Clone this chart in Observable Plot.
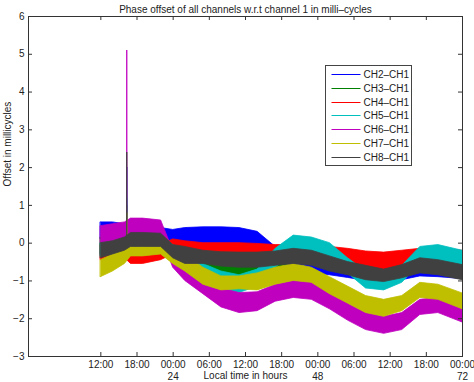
<!DOCTYPE html>
<html><head><meta charset="utf-8">
<script src="https://cdn.jsdelivr.net/npm/d3@7"></script>
<script src="https://cdn.jsdelivr.net/npm/@observablehq/plot@0.6"></script>
<style>
body{margin:0;background:#fff;font-family:"Liberation Sans",Arial,sans-serif;}
#wrap{position:relative;width:474px;height:382px;overflow:hidden;}
</style></head><body><div id="wrap"></div>
<script>
// sample times (hours)
const hours = [12,14,16,17,19,22,24,26,29,32,35,38,41,44,47,50,53,56,59,62,65,68,72];
const channels = ["CH2-CH1","CH3-CH1","CH4-CH1","CH5-CH1","CH6-CH1","CH7-CH1","CH8-CH1"];
const colors = ["#0000ff","#008000","#ff0000","#00bfbf","#bf00bf","#bfbf00","#404040"];

// lower / upper envelope of each noisy trace (milli-cycles)
const ch2Lo = [0.1,0.1,0.1,0.0,0.0,0.0,0.0,0.0,0.0,0.0,0.0,-0.15,-0.5,-0.8,-0.8,-0.85,-0.92,-1.0,-1.05,-0.98,-0.88,-0.9,-0.95];
const ch2Hi = [0.55,0.55,0.5,0.4,0.4,0.4,0.35,0.4,0.42,0.42,0.4,0.3,-0.1,-0.4,-0.4,-0.45,-0.5,-0.6,-0.65,-0.58,-0.45,-0.5,-0.55];
const ch3Lo = [-0.3,-0.25,-0.2,-0.3,-0.3,-0.35,-0.45,-0.6,-0.8,-0.9,-0.92,-0.9,-0.7,-0.5,-0.5,-0.65,-0.75,-0.85,-0.9,-0.85,-0.7,-0.75,-0.85];
const ch3Hi = [0.15,0.15,0.2,0.1,0.1,0.0,-0.05,-0.2,-0.35,-0.45,-0.5,-0.45,-0.35,-0.2,-0.25,-0.35,-0.5,-0.6,-0.7,-0.6,-0.45,-0.5,-0.6];
const ch4Lo = [-0.45,-0.45,-0.4,-0.55,-0.55,-0.45,-0.3,-0.35,-0.35,-0.37,-0.37,-0.4,-0.4,-0.45,-0.45,-0.5,-0.6,-0.7,-0.7,-0.62,-0.55,-0.55,-0.55];
const ch4Hi = [-0.05,-0.05,0.0,-0.1,-0.1,-0.05,0.1,0.05,0.0,0.0,0.0,-0.02,-0.05,-0.05,-0.1,-0.1,-0.15,-0.22,-0.25,-0.2,-0.15,-0.15,-0.2];
const ch5Lo = [-0.35,-0.3,-0.25,-0.15,-0.15,-0.15,-0.45,-0.7,-1.0,-1.2,-1.32,-1.15,-0.65,-0.3,-0.27,-0.45,-0.8,-1.2,-1.25,-1.05,-0.55,-0.5,-0.63];
const ch5Hi = [0.0,0.05,0.1,0.2,0.2,0.2,-0.05,-0.3,-0.55,-0.75,-0.85,-0.7,-0.15,0.2,0.15,0.0,-0.4,-0.75,-0.8,-0.6,-0.1,-0.05,-0.2];
const ch6Lo = [0.0,0.05,0.1,0.25,0.25,0.2,-0.65,-1.0,-1.35,-1.7,-1.85,-1.8,-1.55,-1.45,-1.5,-1.75,-2.05,-2.3,-2.4,-2.3,-1.9,-1.85,-2.1];
const ch6Hi = [0.45,0.5,0.55,0.65,0.65,0.6,-0.2,-0.5,-0.9,-1.2,-1.32,-1.3,-1.1,-1.0,-1.05,-1.3,-1.6,-1.85,-1.95,-1.85,-1.5,-1.45,-1.7];
const ch7Lo = [-0.9,-0.75,-0.55,-0.35,-0.35,-0.3,-0.55,-0.75,-1.1,-1.25,-1.22,-1.25,-1.1,-1.0,-1.05,-1.35,-1.6,-1.85,-1.95,-1.8,-1.45,-1.5,-1.75];
const ch7Hi = [-0.45,-0.3,-0.1,0.0,0.0,0.05,-0.1,-0.3,-0.65,-0.88,-0.88,-0.8,-0.65,-0.55,-0.65,-0.9,-1.15,-1.4,-1.5,-1.4,-1.05,-1.1,-1.33];
const ch8Lo = [-0.4,-0.3,-0.2,-0.1,-0.1,-0.1,-0.4,-0.55,-0.55,-0.62,-0.65,-0.65,-0.6,-0.55,-0.6,-0.75,-0.85,-0.98,-1.03,-0.93,-0.8,-0.85,-0.98];
const ch8Hi = [0.0,0.05,0.15,0.27,0.27,0.25,-0.05,-0.1,-0.2,-0.24,-0.25,-0.25,-0.22,-0.15,-0.2,-0.35,-0.5,-0.6,-0.7,-0.58,-0.4,-0.45,-0.58];

// transient spike
const spikeHour = 16.3;
const spikeTop = [2.0,1.0,0.6,1.2,5.1,0.8,2.4];

// axes
const yTicks = [-3,-2,-1,0,1,2,3,4,5,6];
const xTicks = [12,18,24,30,36,42,48,54,60,66,72];
const xTickLabels = ["12:00","18:00","00:00","06:00","12:00","18:00","00:00","06:00","12:00","18:00","00:00"];
const dayTicks = [24,48,72];
const dayLabels = ["24","48","72"];
const title = "Phase offset of all channels w.r.t channel 1 in milli\u2013cycles";
const xLabel = "Local time in hours";
const yLabel = "Offset in millicycles";

const los = [ch2Lo,ch3Lo,ch4Lo,ch5Lo,ch6Lo,ch7Lo,ch8Lo];
const his = [ch2Hi,ch3Hi,ch4Hi,ch5Hi,ch6Hi,ch7Hi,ch8Hi];

const seriesMarks = [];
channels.forEach((c, k) => {
  const rows = hours.map((h, i) => ({hour: h, lo: los[k][i], hi: his[k][i]}));
  seriesMarks.push(Plot.areaY(rows, {x: "hour", y1: "lo", y2: "hi", fill: colors[k], stroke: colors[k], strokeWidth: 0.8}));
  seriesMarks.push(Plot.ruleX([{hour: spikeHour, top: spikeTop[k]}], {x: "hour", y1: 0, y2: "top", stroke: colors[k], strokeWidth: 1.3}));
});

const xLab = new Map(xTicks.map((d, i) => [d, xTickLabels[i]]));
const dLab = new Map(dayTicks.map((d, i) => [d, dayLabels[i]]));

const plot = Plot.plot({
  width: 474, height: 382,
  marginLeft: 28, marginRight: 12, marginTop: 16, marginBottom: 26,
  x: {domain: [0, 72]},
  y: {domain: [-3, 6]},
  style: {fontFamily: '"Liberation Sans", Arial, sans-serif', fontSize: "10px", color: "#222", background: "#fff", overflow: "visible"},
  marks: [
    ...seriesMarks,
    Plot.frame({stroke: "#333"}),
    Plot.tickY(yTicks, {y: d => d, insetRight: 430, stroke: "#333"}),
    Plot.tickY(yTicks, {y: d => d, insetLeft: 430, stroke: "#333"}),
    Plot.tickX(xTicks, {x: d => d, insetTop: 336, stroke: "#333"}),
    Plot.tickX(xTicks, {x: d => d, insetBottom: 336, stroke: "#333"}),
    Plot.axisY({ticks: yTicks, tickSize: 0, tickPadding: 4, label: null}),
    Plot.axisX({ticks: xTicks, tickSize: 0, tickPadding: 4, tickFormat: d => xLab.get(d), label: null}),
    Plot.axisX({ticks: dayTicks, tickSize: 0, tickPadding: 16, tickFormat: d => dLab.get(d), label: null}),
    Plot.text([xLabel], {frameAnchor: "bottom", dy: 22, text: d => d, fill: "#222"}),
    Plot.text([title], {frameAnchor: "top", dy: -11, text: d => d, fill: "#222"}),
    Plot.text([yLabel], {frameAnchor: "left", dx: -21, rotate: -90, text: d => d, fill: "#222"})
  ]
});

const wrap = document.getElementById("wrap");
wrap.appendChild(plot);

// legend box drawn into the same SVG
const svg = d3.select(plot.tagName.toLowerCase() === "svg" ? plot : plot.querySelector("svg"));
const lg = svg.append("g").attr("transform", "translate(325.5,65.5)").attr("text-anchor", "start");
lg.append("rect").attr("width", 86).attr("height", 100).attr("fill", "#fff").attr("stroke", "#444");
channels.forEach((c, k) => {
  const yy = Math.round(9 + k * 13.8);
  lg.append("line").attr("x1", 6).attr("x2", 35).attr("y1", yy).attr("y2", yy)
    .attr("stroke", colors[k]).attr("stroke-width", 1);
  lg.append("text").attr("x", 38).attr("y", yy).attr("dy", "0.35em")
    .attr("text-anchor", "start").attr("fill", "#222").attr("font-size", 10)
    .text(c.replace("-", "\u2013"));
});
</script></body></html>
